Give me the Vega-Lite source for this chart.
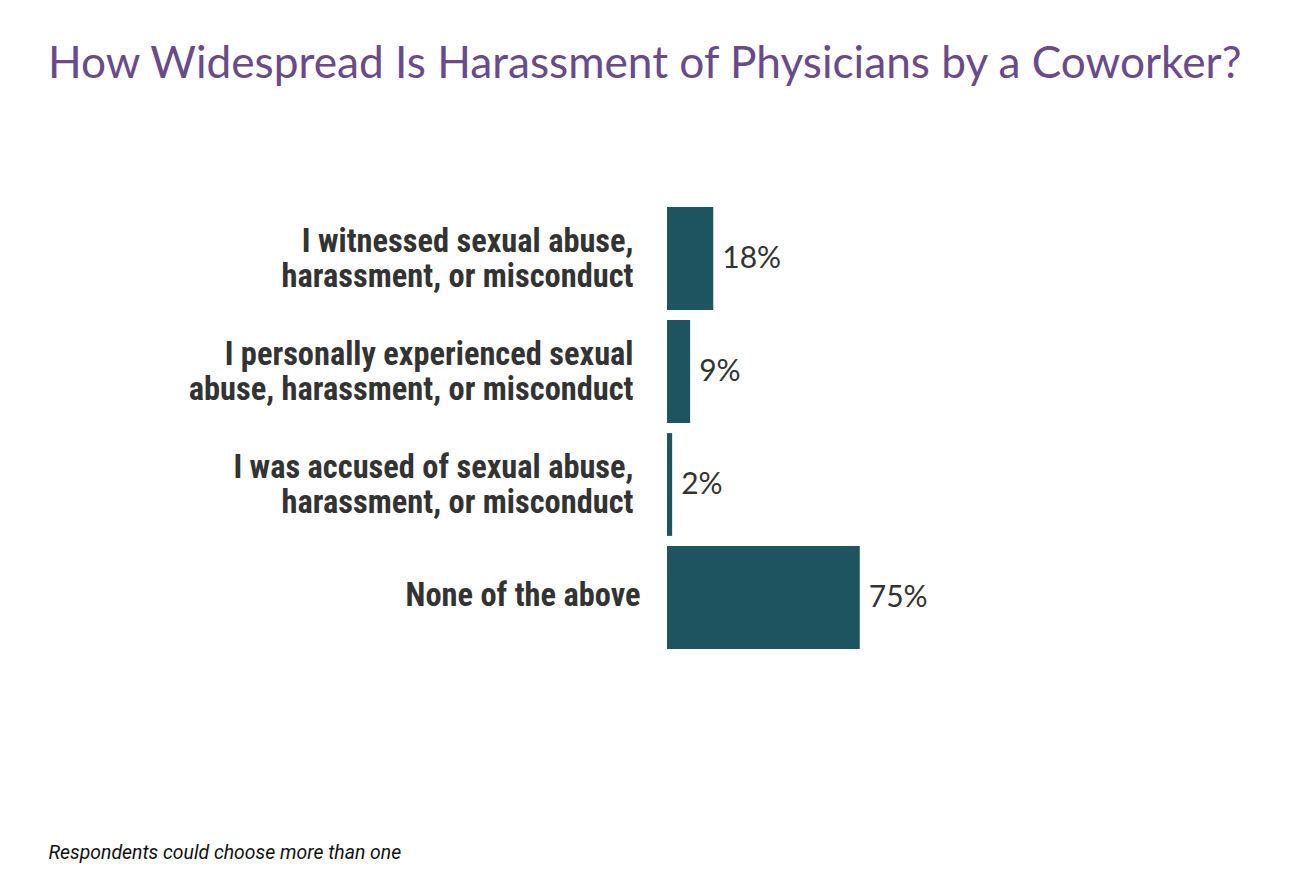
{
  "$schema": "https://vega.github.io/schema/vega-lite/v6.json",
  "autosize": {"type": "none"},
  "width": 257,
  "height": 452,
  "padding": {"left": 667, "top": 202, "right": 366, "bottom": 224},
  "background": "#ffffff",
  "title": {
    "text": "How Widespread Is Harassment of Physicians by a Coworker?",
    "anchor": "start",
    "frame": "group",
    "dx": -619,
    "offset": 80,
    "baseline": "alphabetic",
    "font": "Lato",
    "fontWeight": "normal",
    "fontSize": 44.2,
    "color": "#6b4a8b"
  },
  "data": {
    "values": [
      {"answer": "I witnessed sexual abuse,|harassment, or misconduct", "share": 0.18},
      {"answer": "I personally experienced sexual|abuse, harassment, or misconduct", "share": 0.09},
      {"answer": "I was accused of sexual abuse,|harassment, or misconduct", "share": 0.02},
      {"answer": "None of the above", "share": 0.75}
    ]
  },
  "encoding": {
    "y": {
      "field": "answer",
      "type": "nominal",
      "sort": null,
      "scale": {"paddingInner": 0.09, "paddingOuter": 0.045},
      "axis": {
        "title": null,
        "domain": false,
        "ticks": false,
        "labelPadding": {"condition": {"test": "indexof(datum.value, '|') >= 0", "value": 34}, "value": 27},
        "labelOffset": {"condition": {"test": "indexof(datum.value, '|') >= 0", "value": -17}, "value": -2},
        "labelExpr": "split(datum.value, '|')",
        "labelFont": "Roboto Condensed, Liberation Sans Narrow, DejaVu Sans Condensed",
        "labelFontWeight": "bold",
        "labelFontSize": 32.4,
        "labelLineHeight": 35,
        "labelColor": "#333333",
        "labelLimit": 600
      }
    },
    "x": {
      "field": "share",
      "type": "quantitative",
      "scale": {"domain": [0, 1]},
      "axis": {
        "grid": false,
        "domain": false,
        "ticks": false,
        "labels": false,
        "title": "Respondents could choose more than one",
        "titleAnchor": "start",
        "titleAlign": "left",
        "titleX": -619,
        "titleY": 204,
        "titleBaseline": "alphabetic",
        "titleFont": "Roboto",
        "titleFontStyle": "italic",
        "titleFontWeight": "normal",
        "titleFontSize": 19.4,
        "titleColor": "#111111"
      }
    }
  },
  "layer": [
    {"mark": {"type": "bar", "color": "#1e5460"}},
    {
      "mark": {
        "type": "text",
        "align": "left",
        "baseline": "middle",
        "dx": 9,
        "font": "Lato",
        "fontSize": 30,
        "color": "#333333"
      },
      "encoding": {"text": {"field": "share", "type": "quantitative", "format": ".0%"}}
    }
  ],
  "config": {"view": {"stroke": null}}
}
